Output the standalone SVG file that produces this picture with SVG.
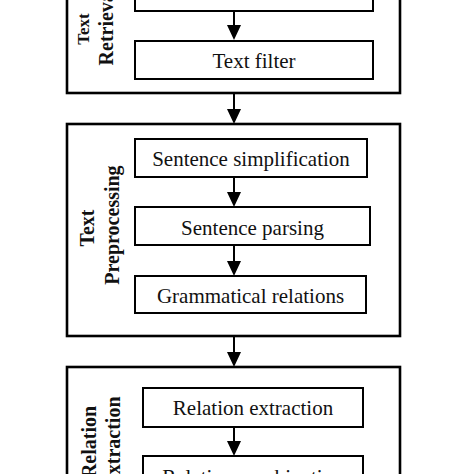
<svg xmlns="http://www.w3.org/2000/svg" width="474" height="474" viewBox="0 0 474 474">
<style>
.outer{fill:none;stroke:#000;stroke-width:2.6}
.box{fill:#fff;stroke:#000;stroke-width:2}
.t{font-family:"Liberation Serif","Times New Roman",serif;font-size:21px;fill:#111;text-anchor:middle}
.lbl{font-family:"Liberation Serif","Times New Roman",serif;font-size:20px;font-weight:bold;fill:#111;text-anchor:middle}
.conn line{stroke:#000;stroke-width:2}
</style>
<defs>
<marker id="ah" viewBox="0 0 15 14" markerWidth="15" markerHeight="14" refX="5" refY="7" orient="auto" markerUnits="userSpaceOnUse">
<path d="M0,0 L15,7 L0,14 z" fill="#000"/>
</marker>
</defs>
<rect width="474" height="474" fill="#fff"/>

<g id="stage-retrieval">
<rect class="outer" x="67" y="-120" width="333" height="213"/>
<text class="lbl" style="font-size:17px" transform="translate(89,29) rotate(-90)">Text</text>
<text class="lbl" transform="translate(113,26) rotate(-90)">Retrieval</text>
</g>
<g id="abstract-box"><rect class="box" x="135" y="-40" width="238" height="51"/></g>
<g id="text-filter"><rect class="box" x="135" y="41" width="238" height="38"/><text class="t" x="254" y="68">Text filter</text></g>

<g id="stage-preprocessing">
<rect class="outer" x="67" y="124" width="333" height="212"/>
<text class="lbl" transform="translate(94,228) rotate(-90)">Text</text>
<text class="lbl" transform="translate(119,225) rotate(-90)">Preprocessing</text>
</g>
<g id="sentence-simplification"><rect class="box" x="135" y="139" width="232" height="38"/><text class="t" x="251" y="166">Sentence simplification</text></g>
<g id="sentence-parsing"><rect class="box" x="135" y="207" width="235" height="38"/><text class="t" x="252.5" y="235">Sentence parsing</text></g>
<g id="grammatical-relations"><rect class="box" x="135" y="276" width="231" height="37"/><text class="t" x="250.5" y="303">Grammatical relations</text></g>

<g id="stage-extraction">
<rect class="outer" x="67" y="367" width="333" height="200"/>
<text class="lbl" transform="translate(96,442) rotate(-90)">Relation</text>
<text class="lbl" transform="translate(120,442) rotate(-90)">Extraction</text>
</g>
<g id="relation-extraction"><rect class="box" x="143" y="388" width="220" height="39"/><text class="t" x="253" y="415">Relation extraction</text></g>
<g id="relation-combination"><rect class="box" x="143" y="456" width="220" height="40"/><text class="t" x="253" y="484">Relation combination</text></g>

<g id="connectors" class="conn">
<line x1="234" y1="11" x2="234" y2="30" marker-end="url(#ah)"/>
<line x1="234" y1="93" x2="234" y2="114" marker-end="url(#ah)"/>
<line x1="234" y1="177" x2="234" y2="197" marker-end="url(#ah)"/>
<line x1="234" y1="245" x2="234" y2="266" marker-end="url(#ah)"/>
<line x1="234" y1="336" x2="234" y2="357" marker-end="url(#ah)"/>
<line x1="234" y1="427" x2="234" y2="446" marker-end="url(#ah)"/>
</g>
</svg>
